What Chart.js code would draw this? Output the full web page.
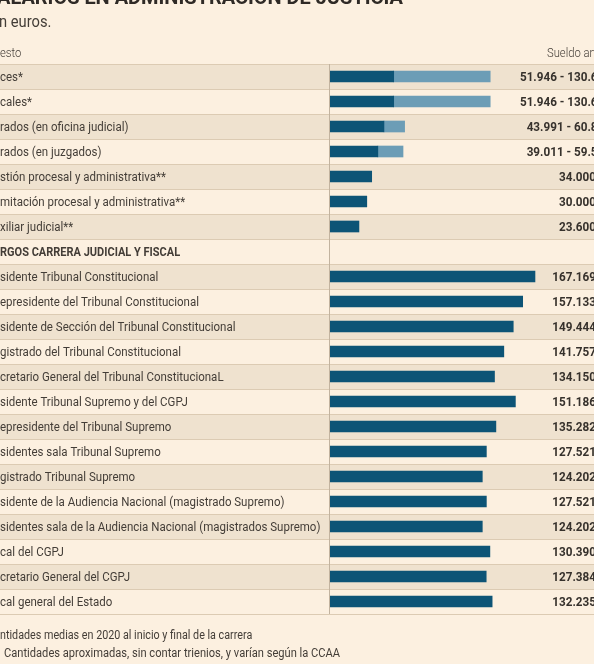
<!DOCTYPE html>
<html>
<head>
<meta charset="utf-8">
<script src="https://cdn.jsdelivr.net/npm/chart.js@4.4.1/dist/chart.umd.min.js"></script>
<style>
  html, body { margin: 0; padding: 0; background: #fcf0e0; }
  canvas { display: block; }
</style>
</head>
<body>
<canvas id="salaryChart" width="594" height="664"></canvas>
<script>
// Visible text only (the picture is cropped on both sides)
const categories = [
  'ces*',
  'cales*',
  'rados (en oficina judicial)',
  'rados (en juzgados)',
  'stión procesal y administrativa**',
  'mitación procesal y administrativa**',
  'xiliar judicial**',
  'RGOS CARRERA JUDICIAL Y FISCAL',
  'sidente Tribunal Constitucional',
  'epresidente del Tribunal Constitucional',
  'sidente de Sección del Tribunal Constitucional',
  'gistrado del Tribunal Constitucional',
  'cretario General del Tribunal ConstitucionaL',
  'sidente Tribunal Supremo y del CGPJ',
  'epresidente del Tribunal Supremo',
  'sidentes sala Tribunal Supremo',
  'gistrado Tribunal Supremo',
  'sidente de la Audiencia Nacional (magistrado Supremo)',
  'sidentes sala de la Audiencia Nacional (magistrados Supremo)',
  'cal del CGPJ',
  'cretario General del CGPJ',
  'cal general del Estado'
];
const sectionRows = [7];

// salary at start of career (or single amount)
const minSalary = [51946, 51946, 43991, 39011, 34000, 30000, 23600, null,
  167169, 157133, 149444, 141757, 134150, 151186, 135282,
  127521, 124202, 127521, 124202, 130390, 127384, 132235];
// salary at end of career (only for ranges, digits past the crop are estimated)
const maxSalary = [130650, 130650, 60850, 59550, null, null, null, null,
  null, null, null, null, null, null, null,
  null, null, null, null, null, null, null];

const COLORS = {
  bg: '#fcf0e0',
  band: '#efe2cf',
  rule: '#dccbb3',
  axis: '#c2b39f',
  dark: '#0d5476',
  light: '#6c9db6',
  text: '#433d37',
  value: '#36312c'
};

const fmt = v => String(v).replace(/\B(?=(\d{3})+(?!\d))/g, '.');

// draw text squeezed horizontally, like the condensed typeface of the original
function condensedText(ctx, text, x, y, k) {
  const w = ctx.measureText(text).width * k;
  ctx.fillText(text, x, y, w);
}

const tablePlugin = {
  id: 'table',
  beforeDatasetsDraw(chart) {
    const { ctx, chartArea, scales: { y } } = chart;
    const W = chart.width;
    ctx.save();
    ctx.fillStyle = COLORS.bg;
    ctx.fillRect(0, 0, W, chart.height);
    const half = (y.getPixelForValue(1) - y.getPixelForValue(0)) / 2;
    categories.forEach((c, i) => {
      const cy = y.getPixelForValue(i);
      if (i % 2 === 0) {
        ctx.fillStyle = COLORS.band;
        ctx.fillRect(0, cy - half, W, half * 2);
      }
    });
    ctx.strokeStyle = COLORS.rule;
    ctx.lineWidth = 1;
    for (let i = 0; i <= categories.length; i++) {
      const ly = Math.round(y.getPixelForValue(i) - half) + 0.5;
      ctx.beginPath();
      ctx.moveTo(0, ly);
      ctx.lineTo(W, ly);
      ctx.stroke();
    }
    ctx.strokeStyle = COLORS.axis;
    ctx.beginPath();
    ctx.moveTo(chartArea.left - 0.5, chartArea.top);
    ctx.lineTo(chartArea.left - 0.5, chartArea.bottom);
    ctx.stroke();
    ctx.restore();
  },
  afterDraw(chart) {
    const { ctx, scales: { y } } = chart;
    ctx.save();
    ctx.textBaseline = 'alphabetic';

    // title + subtitle (cropped at the top)
    ctx.fillStyle = '#2f2a26';
    ctx.font = 'bold 21px Roboto';
    ctx.textAlign = 'left';
    condensedText(ctx, 'ALARIOS EN ADMINISTRACIÓN DE JUSTICIA', -3, 4, 0.95);
    ctx.fillStyle = COLORS.text;
    ctx.font = '16px Roboto';
    condensedText(ctx, 'n euros.', -1, 27, 0.92);

    // column headers
    ctx.font = '300 12.5px Roboto';
    ctx.fillStyle = COLORS.text;
    condensedText(ctx, 'esto', 0, 57, 0.9);
    condensedText(ctx, 'Sueldo anual', 547, 57, 0.9);

    // row labels + values
    categories.forEach((c, i) => {
      const cy = y.getPixelForValue(i) + 4.5;
      ctx.textAlign = 'left';
      ctx.fillStyle = COLORS.text;
      ctx.font = sectionRows.includes(i) ? 'bold 12.5px Roboto' : '12.5px Roboto';
      condensedText(ctx, c, 0, cy, sectionRows.includes(i) ? 0.88 : 0.92);

      if (minSalary[i] == null) return;
      ctx.textAlign = 'right';
      ctx.fillStyle = COLORS.value;
      ctx.font = 'bold 13px Roboto';
      if (maxSalary[i] != null) {
        condensedText(ctx, fmt(minSalary[i]) + ' - ' + fmt(maxSalary[i]), 611, cy, 0.9);
      } else {
        condensedText(ctx, fmt(minSalary[i]), 596, cy, 0.9);
      }
    });

    // footnotes
    ctx.textAlign = 'left';
    ctx.fillStyle = COLORS.text;
    ctx.font = '12.5px Roboto';
    condensedText(ctx, 'ntidades medias en 2020 al inicio y final de la carrera', 0, 639, 0.86);
    condensedText(ctx, 'Cantidades aproximadas, sin contar trienios, y varían según la CCAA', 4, 657, 0.89);
    ctx.restore();
  }
};

new Chart(document.getElementById('salaryChart'), {
  type: 'bar',
  data: {
    labels: categories,
    datasets: [
      {
        label: 'Inicio',
        data: minSalary,
        backgroundColor: COLORS.dark,
        barThickness: 11,
        grouped: false
      },
      {
        label: 'Final',
        data: maxSalary.map((v, i) => v == null ? null : [minSalary[i], v]),
        backgroundColor: COLORS.light,
        barThickness: 11,
        grouped: false
      }
    ]
  },
  plugins: [tablePlugin],
  options: {
    indexAxis: 'y',
    responsive: false,
    animation: false,
    devicePixelRatio: 1,
    layout: { padding: { left: 330, top: 64, bottom: 50, right: 0 } },
    plugins: { legend: { display: false }, tooltip: { enabled: false } },
    scales: {
      x: { display: false, min: 0, max: 215300 },
      y: { display: false }
    }
  }
});
</script>
</body>
</html>
